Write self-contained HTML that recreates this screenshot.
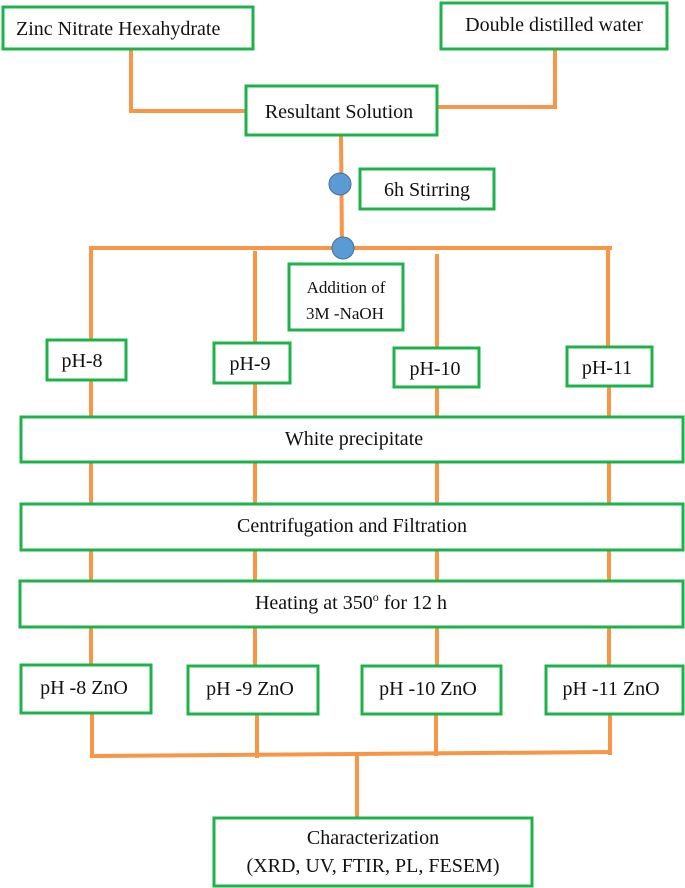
<!DOCTYPE html>
<html><head><meta charset="utf-8"><style>
html,body{margin:0;padding:0;background:#fff;}
svg{display:block;}
text{font-family:"Liberation Serif",serif;font-size:20px;fill:#111;}
</style></head><body>
<svg width="685" height="888" viewBox="0 0 685 888" xmlns="http://www.w3.org/2000/svg">
<g stroke="#f79646" stroke-width="4" fill="none">
<polyline points="131,49 131,111 245,111"/>
<polyline points="555,49 555,107 437,107"/>
<line x1="341" y1="135" x2="342" y2="249"/>
<line x1="89" y1="248" x2="612" y2="248"/>
<line x1="91" y1="248" x2="91" y2="340"/>
<line x1="255" y1="251" x2="255" y2="343"/>
<line x1="437" y1="254" x2="437" y2="348"/>
<line x1="608" y1="250" x2="608" y2="347"/>
<line x1="91" y1="380" x2="91" y2="665"/>
<line x1="255" y1="383" x2="255" y2="665"/>
<line x1="437" y1="387" x2="437" y2="665"/>
<line x1="609" y1="386" x2="609" y2="665"/>
<line x1="92" y1="713" x2="92" y2="758"/>
<line x1="257" y1="713" x2="257" y2="758"/>
<line x1="436" y1="713" x2="436" y2="756"/>
<line x1="610" y1="713" x2="610" y2="755"/>
<polyline points="90,756 357,754 612,752"/>
<line x1="357" y1="754" x2="357" y2="817"/>
</g>
<g fill="#fff" stroke="#1db34a" stroke-width="3">
<rect x="3" y="7" width="250" height="42"/>
<rect x="441" y="3" width="226" height="46"/>
<rect x="246" y="86" width="191" height="49"/>
<rect x="360" y="169" width="134" height="40"/>
<rect x="289" y="264" width="114" height="66"/>
<rect x="47" y="340" width="79" height="40"/>
<rect x="214" y="343" width="76" height="40"/>
<rect x="394" y="348" width="85" height="39"/>
<rect x="567" y="347" width="85" height="39"/>
<rect x="21" y="417" width="662" height="45"/>
<rect x="21" y="504" width="662" height="46"/>
<rect x="20" y="581" width="663" height="46"/>
<rect x="21" y="665" width="130" height="48"/>
<rect x="188" y="666" width="130" height="48"/>
<rect x="362" y="666" width="139" height="48"/>
<rect x="546" y="666" width="137" height="48"/>
<rect x="214" y="818" width="318" height="68"/>
</g>
<g fill="#5b9bd5" stroke="#41719c" stroke-width="1">
<circle cx="340" cy="184" r="11"/>
<circle cx="343" cy="248" r="11"/>
</g>
<text x="16" y="35">Zinc Nitrate Hexahydrate</text>
<text x="554" y="31" text-anchor="middle">Double distilled water</text>
<text x="339" y="118" text-anchor="middle">Resultant Solution</text>
<text x="427" y="196" text-anchor="middle">6h Stirring</text>
<text x="346" y="293" text-anchor="middle" style="font-size:17px">Addition of</text>
<text x="345" y="319" text-anchor="middle" style="font-size:17px">3M -NaOH</text>
<text x="82" y="367" text-anchor="middle">pH-8</text>
<text x="250" y="370" text-anchor="middle">pH-9</text>
<text x="435" y="375" text-anchor="middle">pH-10</text>
<text x="607" y="374" text-anchor="middle">pH-11</text>
<text x="354" y="445" text-anchor="middle">White precipitate</text>
<text x="352" y="532" text-anchor="middle">Centrifugation and Filtration</text>
<text x="351" y="609" text-anchor="middle">Heating at 350<tspan dy="-8" style="font-size:12px">o</tspan><tspan dy="8"> for 12 h</tspan></text>
<text x="84" y="694" text-anchor="middle">pH -8 ZnO</text>
<text x="250" y="695" text-anchor="middle">pH -9 ZnO</text>
<text x="428" y="695" text-anchor="middle">pH -10 ZnO</text>
<text x="611" y="695" text-anchor="middle">pH -11 ZnO</text>
<text x="373" y="844" text-anchor="middle">Characterization</text>
<text x="373" y="872" text-anchor="middle">(XRD, UV, FTIR, PL, FESEM)</text>
</svg>
</body></html>
